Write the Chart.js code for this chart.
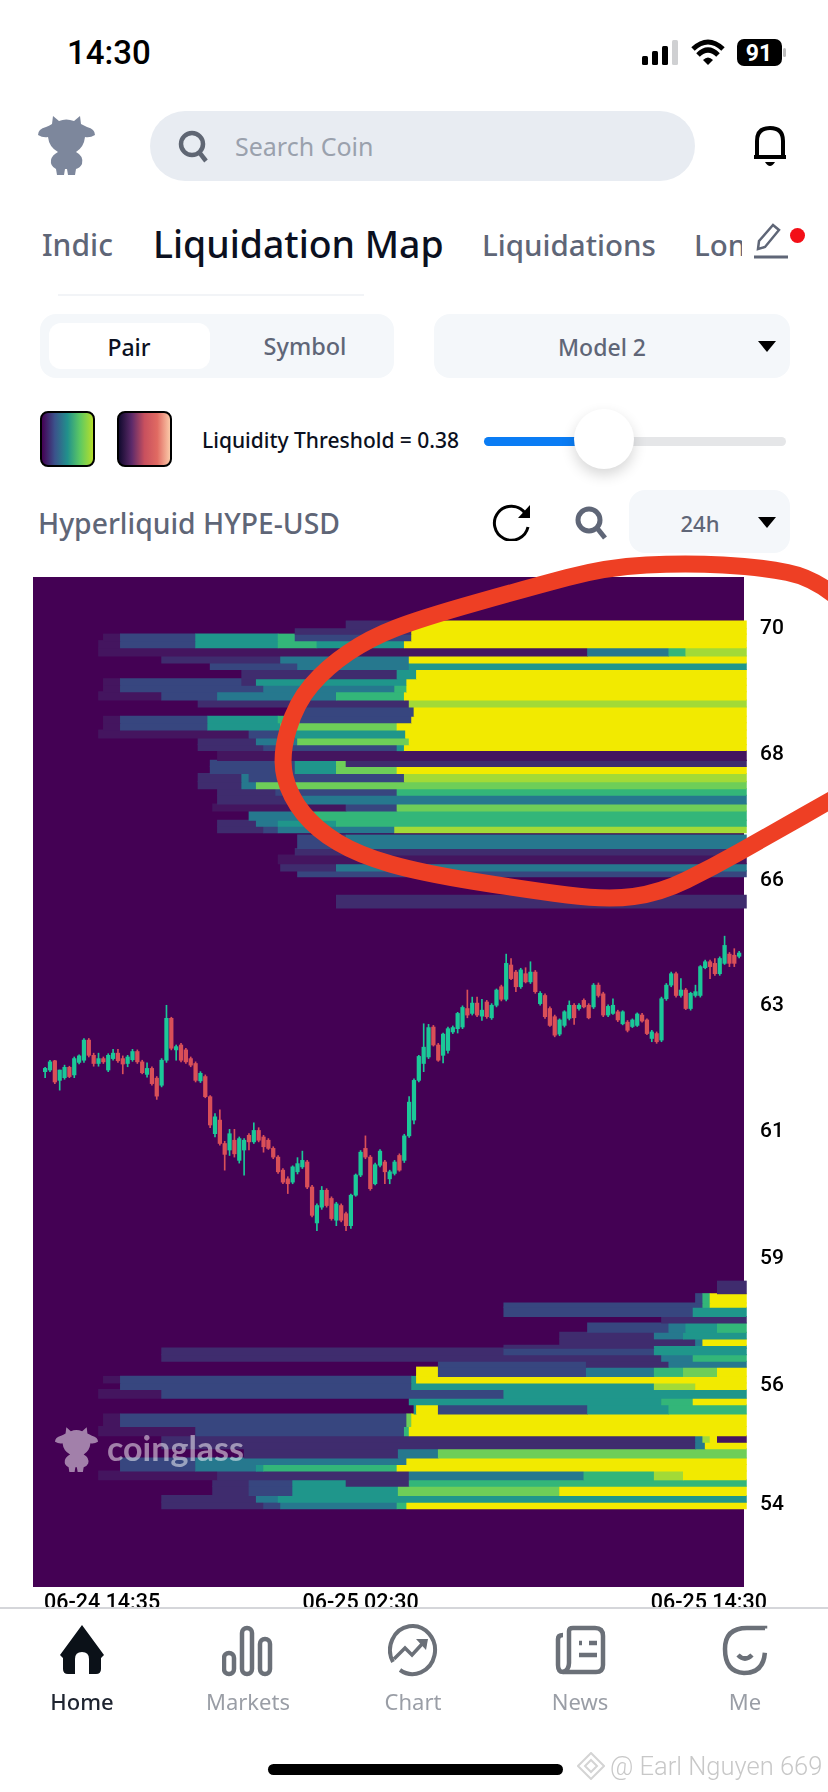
<!DOCTYPE html>
<html>
<head>
<meta charset="utf-8">
<script src="https://cdn.jsdelivr.net/npm/chart.js@4"></script>
<style>
  html, body { margin: 0; padding: 0; background: #fff; }
  #page { position: relative; width: 828px; height: 1792px; overflow: hidden; font-family: "Noto Sans", sans-serif; }
  #page > * { position: absolute; }
  .t { white-space: nowrap; line-height: 1; transform: translateY(-50%); font-weight: 500; color: #5f6677; }
  .c { transform: translate(-50%, -50%); }
  .pill { background: #f4f7fa; border-radius: 16px; }
  .tri { width: 0; height: 0; border-left: 9px solid transparent; border-right: 9px solid transparent; border-top: 11px solid #000; }
  .nav { font-size: 22px; color: #9a9ea6; font-weight: 400; }
</style>
</head>
<body>
<div id="page">
  <svg width="0" height="0" style="left:0;top:0">
    <symbol id="cow" viewBox="0 0 57 60">
      <path d="M14 8 L15 0 L21 5 Q28 2 36 5 L42 0 L43 8 Q47 10 49 11 Q57 13 57 19 Q52 22 47 21 Q46 31 38 36 Q46 40 44 48 Q42 52 38 53 L37 59 L30 59 L29 53 L27 53 L26 59 L19 59 L18 53 Q12 50 13 44 Q14 39 20 36 Q11 31 10 21 Q5 22 0 19 Q0 13 8 11 Q11 10 14 8 Z"/>
    </symbol>
  </svg>

  <div class="t" style="left:67px;top:52px;font:500 33px Roboto;color:#000">14:30</div>
  <svg style="left:640px;top:38px" width="150" height="30">
    <rect x="2" y="18" width="6" height="9" rx="1.5" fill="#000"/>
    <rect x="12" y="13" width="6" height="14" rx="1.5" fill="#000"/>
    <rect x="22" y="8" width="6" height="19" rx="1.5" fill="#000"/>
    <rect x="32" y="2" width="6" height="25" rx="1.5" fill="#cfd0d2"/>
    <path d="M53 11 Q68 -3 83 11 M58 17 Q68 7 78 17" fill="none" stroke="#000" stroke-width="5"/>
    <path d="M63 22 Q68 17 73 22 L68 27 Z" fill="#000"/>
    <rect x="97" y="1" width="45" height="27" rx="7" fill="#000"/>
    <rect x="143" y="10" width="3" height="9" rx="1.5" fill="#bdbdbd"/>
    <text x="119" y="23" text-anchor="middle" font-family="Roboto" font-weight="700" font-size="23" fill="#fff">91</text>
  </svg>

  <svg style="left:38px;top:116px" width="57" height="60" fill="#7d879c"><use href="#cow"/></svg>
  <div style="left:150px;top:111px;width:545px;height:70px;border-radius:35px;background:#e8ecf2"></div>
  <svg style="left:178px;top:130px" width="32" height="33" fill="none" stroke="#5f6673" stroke-width="4.5"><circle cx="14" cy="14" r="11"/><path d="M21 22 L28 31"/></svg>
  <div class="t" style="left:235px;top:146px;font-size:25px;color:#9aa1ad;font-weight:400">Search Coin</div>
  <svg style="left:752px;top:124px" width="36" height="46" fill="none" stroke="#000" stroke-width="4">
    <path d="M5 32 V17 Q5 4 18 4 Q31 4 31 17 V32"/><path d="M2 33 H34"/><path d="M13 38 H23 Q18 46 13 38 Z" fill="#000" stroke="none"/>
  </svg>

  <div class="t" style="left:42px;top:245px;font-size:30px">Indic</div>
  <div class="t" style="left:153px;top:244px;font-size:37.4px;color:#0b1020">Liquidation Map</div>
  <div class="t" style="left:482px;top:245px;font-size:29.5px">Liquidations</div>
  <div style="left:694px;top:225px;width:48px;height:40px;overflow:hidden"><div style="font-size:29.5px;font-weight:500;color:#5f6677;line-height:40px">Long</div></div>
  <svg style="left:752px;top:222px" width="40" height="38" fill="none" stroke="#5f6677" stroke-width="2.5"><path d="M6 27 L7 19 L21 3 L27 8 L13 25 Z"/><path d="M2 35 H36" stroke-width="3"/></svg>
  <div style="left:790px;top:228px;width:15px;height:15px;border-radius:50%;background:#f30f17"></div>
  <div style="left:58px;top:294px;width:306px;height:2px;background:#f2f4f7"></div>

  <div class="pill" style="left:40px;top:314px;width:354px;height:64px"></div>
  <div style="left:49px;top:323px;width:161px;height:46px;background:#fff;border-radius:12px"></div>
  <div class="t c" style="left:129px;top:347px;font-size:23px;color:#0b1020">Pair</div>
  <div class="t c" style="left:305px;top:347px;font-size:23.5px">Symbol</div>
  <div class="pill" style="left:434px;top:314px;width:356px;height:64px"></div>
  <div class="t c" style="left:602px;top:347px;font-size:23px">Model 2</div>
  <div class="tri" style="left:758px;top:341px"></div>

  <div style="left:40px;top:411px;width:51px;height:52px;border:2px solid #000;border-radius:8px;background:linear-gradient(90deg,#440154,#3b528b,#21918c,#5ec962,#b5de2b)"></div>
  <div style="left:117px;top:411px;width:51px;height:52px;border:2px solid #000;border-radius:8px;background:linear-gradient(90deg,#120a2e,#5c2a6a,#c8505e,#e06a62,#fbc9a8)"></div>
  <div class="t" style="left:202px;top:440px;font-size:21px;color:#0b1020">Liquidity Threshold = 0.38</div>
  <div style="left:484px;top:437px;width:302px;height:9px;border-radius:5px;background:#e5e6e8"></div>
  <div style="left:484px;top:437px;width:120px;height:9px;border-radius:5px 0 0 5px;background:#0a7cf4"></div>
  <div style="left:574px;top:409px;width:60px;height:60px;border-radius:50%;background:#fff;box-shadow:0 6px 14px rgba(0,0,0,.16)"></div>

  <div class="t" style="left:38px;top:523px;font-size:28.3px">Hyperliquid HYPE-USD</div>
  <svg style="left:492px;top:501px" width="42" height="40" fill="none" stroke="#000" stroke-width="3">
    <path d="M33 12 A17 17 0 1 0 36 26"/><path d="M38 4 V17 H26 Z" fill="#000" stroke="none"/>
  </svg>
  <svg style="left:574px;top:506px" width="36" height="35" fill="none" stroke="#5f6677" stroke-width="5"><circle cx="15" cy="14" r="11"/><path d="M23 22 L31 32"/></svg>
  <div class="pill" style="left:629px;top:490px;width:161px;height:63px"></div>
  <div class="t c" style="left:700px;top:523px;font-size:22px">24h</div>
  <div class="tri" style="left:758px;top:517px"></div>

  <div style="left:0;top:560px;width:828px;height:1060px"><canvas id="liqmap" width="828" height="1060"></canvas></div>

  <svg style="left:55px;top:1427px" width="43" height="46" fill="#fff" opacity="0.5"><use href="#cow"/></svg>
  <div style="left:107px;top:1426px;font:700 34px/1.3 Lato;color:rgba(255,255,255,.5)">coinglass</div>

  <svg id="loop" style="left:0;top:0" width="828" height="1792"><path id="looppath" fill="none" stroke="#ee3f24" stroke-width="17" stroke-linecap="round" stroke-linejoin="round"/></svg>

  <div style="left:0;top:1607px;width:828px;height:2px;background:#d5d6da"></div>
  <svg style="left:56px;top:1625px" width="52" height="52" fill="#0b1118"><path d="M26 0 L48 30 L45 33 V44 Q45 49 40 49 H33 V34 Q33 27 26 27 Q19 27 19 34 V49 H12 Q7 49 7 44 V33 L4 30 Z"/></svg>
  <svg style="left:222px;top:1625px" width="52" height="52" fill="none" stroke="#6b7078" stroke-width="4.5"><rect x="2" y="28" width="10" height="21" rx="5"/><rect x="20" y="3" width="10" height="46" rx="5"/><rect x="38" y="14" width="10" height="35" rx="5"/></svg>
  <svg style="left:388px;top:1624px" width="52" height="54" fill="none" stroke="#6b7078" stroke-width="4"><path d="M5 38 A22.5 24 0 1 1 12 46"/><path d="M6 35 L17 24 L24 31 L35 19" stroke-width="3.5"/><path d="M28 15 L40 15 L38 26 Z" fill="#6b7078" stroke="none"/></svg>
  <svg style="left:555px;top:1625px" width="52" height="52" fill="none" stroke="#6b7078" stroke-width="4.5"><path d="M14 6 Q14 3 18 3 H40 Q48 3 48 11 V40 Q48 47 41 47 H8 Q3 47 3 40 V14 Q3 10 8 10"/><path d="M14 6 V38 Q14 45 8 47"/><path d="M24 18 H27 M34 18 H42 M24 30 H42" stroke-width="4.5"/></svg>
  <svg style="left:722px;top:1625px" width="46" height="52" fill="none" stroke="#6b7078" stroke-width="4.5"><path d="M43 3 H25 Q3 3 3 24 Q3 47 22 48 Q43 48 43 24 Z" stroke-dasharray="120 24"/><path d="M16 30 Q23 37 30 30"/></svg>
  <div class="t c nav" style="left:82px;top:1701px;color:#1e2430;font-weight:500">Home</div>
  <div class="t c nav" style="left:248px;top:1701px">Markets</div>
  <div class="t c nav" style="left:413px;top:1701px">Chart</div>
  <div class="t c nav" style="left:580px;top:1701px">News</div>
  <div class="t c nav" style="left:745px;top:1701px">Me</div>

  <div style="left:268px;top:1764px;width:295px;height:11px;border-radius:6px;background:#000"></div>
  <svg style="left:577px;top:1752px" width="28" height="28" fill="none" stroke="#d4d4d4" stroke-width="2"><path d="M14 1 L27 14 L14 27 L1 14 Z M14 8 L20 14 L14 20 L8 14 Z"/></svg>
  <div class="t" style="left:610px;top:1767px;font-size:25.5px;font-weight:300;color:#c8c8c8;font-family:Roboto">@ Earl Nguyen 669</div>
</div>

<script>
const xTickValues = [23.5, 130, 273.5];
const xTickLabels = ['06-24 14:35', '06-25 02:30', '06-25 14:30'];
const yTickValues = [70.17, 67.86, 65.54, 63.24, 60.93, 58.6, 56.26, 54.07];
const yTickLabels = ['70', '68', '66', '63', '61', '59', '56', '54'];

// viridis steps, index = liquidity level
const levelColors = ['#440154', '#44155f', '#3f2c6e', '#37467f', '#26788e', '#1f968b', '#33b679', '#6ece58', '#a2da37', '#f2ea00'];

// price bands of the heatmap, x stops are in 5 minute candles from 06-24 14:35
const bandHigh = [70.31, 70.17, 70.07, 69.95, 69.82, 69.67, 69.54, 69.42, 69.25, 69.13, 69.01, 68.86, 68.73, 68.56, 68.44, 68.31, 68.16, 68.04, 67.93, 67.75, 67.64, 67.51, 67.36, 67.23, 67.11, 66.95, 66.82, 66.65, 66.54, 66.38, 66.13, 66.01, 65.85, 65.72, 65.27,
  58.18, 57.95, 57.78, 57.70, 57.53, 57.41, 57.24, 57.12, 57.0, 56.95, 56.83, 56.71, 56.60, 56.43, 56.31, 56.19, 56.03, 55.91, 55.74, 55.51, 55.34, 55.22, 55.10, 54.93, 54.81, 54.69, 54.53, 54.41, 54.24, 54.12];
const bandLow = [70.17, 70.07, 69.95, 69.82, 69.67, 69.54, 69.42, 69.25, 69.13, 69.01, 68.86, 68.73, 68.56, 68.44, 68.31, 68.16, 68.04, 67.93, 67.75, 67.64, 67.51, 67.36, 67.23, 67.11, 66.95, 66.82, 66.65, 66.54, 66.42, 66.13, 66.01, 65.85, 65.72, 65.61, 65.04,
  57.95, 57.78, 57.70, 57.53, 57.41, 57.24, 57.12, 57.0, 56.95, 56.83, 56.71, 56.60, 56.43, 56.31, 56.19, 56.03, 55.91, 55.74, 55.51, 55.34, 55.22, 55.10, 54.93, 54.81, 54.69, 54.53, 54.41, 54.24, 54.12, 54.0];
const bandStops = [
  [124,151,289], [103,151,289], [24,31,62,96,103,151,289], [22,31,62,96,112,148,289], [22,223.5,257,264,289],
  [48,97,150,289], [68,104,150,289], [81,145,153,289], [24,31,81,87,149,289], [24,31,90,144,149,289],
  [22,48,71,120,148,289], [63,150,289], [104,152,289], [24,31,67,96,105,151,289], [24,31,67,97,145,289],
  [22,84,103,148.5,289], [63,87,104,150,289], [63,90,145,148,289], [71,289], [68,103,120,124,289],
  [68,103,120,145,289], [63,81,84,148,289], [63,81,87,289], [71,95,145,289], [71,104,289],
  [69,124,145,289], [84,105,289], [71,87,96,120,289], [71,90,96,144,289], [104,124,289],
  [103,289], [96,289], [97,120,289], [104,289], [120,289],
  [277,289], [268,271,274,289], [189,271,274,289], [189,267,289], [254,289],
  [223.5,257,264,277,289], [212,251,263,289], [212,268,271,289], [189,251,289], [48,189,251,289],
  [48,254,267,289], [162,223,257,289], [153,162,223,251,263,277,289], [24,31,151,153,289], [31,151,251,268,289],
  [22,48,189,289], [150,254,267,289], [152,153,162,223.5,257,289], [24,31,149,151,289], [22,62,148,150,289],
  [48,268,271,274,277,289], [48,268,272,289], [82,145.5,162,289], [31,62,149,289], [31,62,87,90,145,289],
  [22,71,150,222,251,263,289], [69,84,102,124,150,289], [69,84,102,145.5,212,289], [48,87,96,289], [48,90,97,145,149,289]
];
const bandLevels = [
  [2,9], [2,9], [1,3,5,6,3,9], [1,3,5,6,5,9], [1,4,6,8],
  [2,4,9], [3,4,5], [2,5,9], [1,3,2,5,9], [1,3,4,6,9],
  [1,3,4,6,9], [2,8], [3,9], [1,3,5,6,3,9], [1,3,5,7,9],
  [1,3,5,9], [2,4,7,9], [2,3,5,9], [1], [3,5,7,2],
  [3,5,7,9], [2,4,3,8], [2,4,7], [2,3,6], [2,4],
  [1,3,7], [4,6], [2,4,5,6], [2,3,4,8], [3,4],
  [2], [1], [2,4], [3], [2],
  [2], [3,6,9], [3,6,9], [3,5], [2],
  [3,4,5,6], [2,4,5], [2,4,9], [2,5], [2,3,5],
  [2,4,6], [3,2,4], [9,3,4,6,7,9], [1,3,5,9], [3,5,8,9],
  [1,3,5], [5,6,9], [5,9,3,5,6], [1,3,7,9], [1,3,6,9],
  [2,4,8,9,1], [2,4,9], [2,4,7], [3,4,9], [3,4,5,6,9],
  [1,2,4,6,8,9], [2,3,5,2,6], [2,3,5,7,9], [2,4,5], [2,3,4,6,9]
];

// price candles, 10 minutes each
const opens = [62.03,62.06,62.23,61.87,61.92,62.11,61.97,62.2,62.24,62.61,62.33,62.18,62.27,62.06,62.27,62.37,62.27,62.18,62.25,62.4,
  62.21,61.98,62.09,61.91,61.78,62.24,63.01,62.43,62.52,62.43,62.27,62.18,61.86,61.94,61.57,60.89,61.14,60.71,60.59,60.77,
  60.4,60.59,60.86,60.74,60.95,60.83,60.77,60.62,60.46,60.22,60.06,60.0,60.19,60.28,60.37,59.91,59.25,59.54,59.85,59.7,
  59.3,59.57,59.42,59.2,59.76,60.13,60.62,60.46,59.97,60.31,60.37,60.06,60.16,60.49,60.4,60.85,61.14,61.87,62.18,62.3,
  62.85,62.52,62.33,62.42,62.76,62.82,62.85,63.19,63.1,63.29,63.05,63.31,63.02,63.25,63.59,63.36,63.99,63.86,63.59,63.83,
  63.68,63.86,63.28,63.43,63.19,63.04,62.72,62.88,63.01,63.25,63.19,63.34,63.25,63.22,63.62,63.46,63.07,63.1,63.13,62.91,
  62.94,62.86,62.88,63.07,62.98,62.64,62.73,62.61,63.37,63.62,63.83,63.43,63.53,63.19,63.43,63.43,63.94,64.05,64.02,63.83,
  64.02,64.19,64.17,64.15];
const closes = [62.09,62.21,61.84,62.06,62.11,61.94,62.27,62.32,62.61,62.33,62.18,62.27,62.21,62.33,62.37,62.23,62.17,62.3,62.4,62.21,
  62.01,62.09,61.81,61.58,62.24,63.01,62.46,62.49,62.24,62.21,62.15,61.87,62.0,61.57,61.05,61.2,60.71,60.51,60.89,60.52,
  60.8,60.77,60.74,60.95,60.77,60.65,60.62,60.46,60.19,60.0,59.97,60.28,60.34,60.4,59.91,59.39,59.57,59.85,59.57,59.33,
  59.6,59.3,59.2,59.76,60.13,60.55,60.46,59.88,60.32,60.57,60.19,60.19,60.37,60.22,60.85,61.47,61.87,62.31,62.48,62.84,
  62.52,62.24,62.72,62.82,62.84,63.1,63.21,63.07,63.29,63.07,63.16,63.04,63.25,63.53,63.36,64.02,63.74,63.59,63.9,63.68,
  63.86,63.5,63.47,63.04,62.88,62.7,62.98,63.13,63.25,63.02,63.25,63.22,63.02,63.62,63.43,63.07,63.23,63.25,62.98,63.13,
  62.79,62.98,63.09,62.96,62.73,62.76,62.58,63.37,63.62,63.83,63.43,63.53,63.19,63.47,63.5,63.96,64.05,63.96,63.83,64.11,
  64.35,64.02,64.02,64.21];
const highs = [62.11,62.24,62.24,62.06,62.15,62.13,62.30,62.34,62.64,62.64,62.37,62.37,62.3,62.36,62.44,62.44,62.32,62.33,62.44,62.43,
  62.24,62.19,62.12,61.94,62.27,63.25,63.03,62.52,62.55,62.46,62.3,62.21,62.03,61.97,61.59,61.26,61.33,60.75,60.97,60.97,
  60.83,60.8,60.89,61.09,61.0,60.86,60.8,60.65,60.49,60.25,60.1,60.3,60.45,60.57,60.4,59.94,59.6,59.92,59.88,59.73,
  59.63,59.6,59.45,59.78,60.15,60.58,60.85,60.49,60.35,60.6,60.4,60.22,60.4,60.52,60.88,61.57,61.9,62.33,62.91,62.9,
  62.88,62.55,62.74,62.85,62.87,63.12,63.24,63.53,63.4,63.4,63.36,63.34,63.28,63.55,63.62,64.19,64.11,63.89,63.93,63.94,
  64.05,63.89,63.5,63.46,63.22,63.07,63.0,63.15,63.33,63.28,63.28,63.37,63.28,63.65,63.66,63.49,63.26,63.37,63.16,63.15,
  62.97,63.0,63.11,63.1,63.0,62.79,62.76,63.4,63.65,63.86,63.86,63.74,63.56,63.49,63.62,63.98,64.08,64.08,64.11,64.14,
  64.52,64.22,64.29,64.24];
const lows = [61.92,62.03,61.81,61.69,61.89,61.92,61.92,62.17,62.2,62.3,62.13,62.13,62.18,62.03,62.24,62.2,61.99,62.12,62.22,62.18,
  61.99,61.93,61.78,61.52,61.75,62.2,62.43,62.24,62.21,62.18,62.12,61.84,61.83,61.55,61.0,60.83,60.68,60.22,60.49,60.46,
  60.35,60.13,60.59,60.71,60.74,60.55,60.6,60.43,60.16,59.97,59.79,59.97,60.15,60.25,59.88,59.36,59.11,59.5,59.54,59.3,
  59.2,59.27,59.11,59.15,59.74,60.1,60.43,59.85,59.95,60.28,59.97,59.97,60.13,60.2,60.36,60.82,61.07,61.84,62.03,62.27,
  62.5,62.22,62.19,62.37,62.73,62.74,62.82,63.02,63.07,63.04,62.97,63.01,62.99,63.22,63.33,63.33,63.72,63.5,63.56,63.66,
  63.65,63.47,63.25,63.01,62.86,62.67,62.69,62.85,62.98,62.9,63.16,63.2,63.0,63.19,63.4,63.04,63.04,63.08,62.95,62.89,
  62.76,62.84,62.86,62.94,62.71,62.58,62.55,62.58,63.34,63.59,63.4,63.4,63.17,63.16,63.4,63.4,63.92,63.74,63.8,63.8,
  64.0,63.96,63.96,64.12];

const upColor = '#1bc898';
const downColor = '#d94f58';

// hand drawn circle on the screenshot, page pixels
const loopPoints = [[840,600],[815,578],[760,567],[686,563],[607,567],[528,588],[422,618],[370,638],[327,667],[296,703],[280,757],[290,797],[317,830],[359,855],[422,873],[528,890],[607,900],[660,893],[713,867],[766,837],[840,795]];
let loopD = 'M' + loopPoints[0].join(' ');
for (let i = 1; i < loopPoints.length - 1; i++) {
  const mx = (loopPoints[i][0] + loopPoints[i + 1][0]) / 2;
  const my = (loopPoints[i][1] + loopPoints[i + 1][1]) / 2;
  loopD += ' Q' + loopPoints[i].join(' ') + ' ' + mx + ' ' + my;
}
loopD += ' L' + loopPoints[loopPoints.length - 1].join(' ');
document.getElementById('looppath').setAttribute('d', loopD);

const bandDatasets = bandHigh.map((high, b) => ({
  type: 'bar',
  indexAxis: 'y',
  grouped: false,
  clip: false,
  order: 2,
  barThickness: (ctx) => {
    const y = ctx.chart.scales.y;
    return y.getPixelForValue(bandLow[b]) - y.getPixelForValue(high) + 0.4;
  },
  data: bandLevels[b].map((level, s) => ({ y: (high + bandLow[b]) / 2, x: [bandStops[b][s], bandStops[b][s + 1]] })),
  backgroundColor: bandLevels[b].map(level => levelColors[level]),
  borderWidth: 0
}));

const candleColors = closes.map((c, i) => c >= opens[i] ? upColor : downColor);

const wickDataset = {
  type: 'bar',
  indexAxis: 'x',
  grouped: false,
  order: 1,
  barThickness: 1,
  data: highs.map((h, i) => ({ x: i * 2, y: [lows[i], h] })),
  backgroundColor: candleColors,
  borderWidth: 0
};
const bodyDataset = {
  type: 'bar',
  indexAxis: 'x',
  grouped: false,
  order: 0,
  barThickness: 3.6,
  data: opens.map((o, i) => ({ x: i * 2, y: [o, closes[i]] })),
  backgroundColor: candleColors,
  borderWidth: 0
};

new Chart(document.getElementById('liqmap'), {
  data: { datasets: [...bandDatasets, wickDataset, bodyDataset] },
  options: {
    responsive: false,
    animation: false,
    devicePixelRatio: 1,
    layout: { padding: { left: 33, top: 17, right: 0, bottom: 0 } },
    plugins: { legend: { display: false }, tooltip: { enabled: false } },
    scales: {
      x: {
        type: 'linear',
        offset: false,
        min: -5,
        max: 288,
        grid: { display: false, drawTicks: false, offset: false },
        border: { display: false },
        afterFit: (s) => { s.height = 33; s.paddingLeft = 0; s.paddingRight = 0; },
        afterBuildTicks: (s) => { s.ticks = xTickValues.map(v => ({ value: v })); },
        ticks: {
          autoSkip: false,
          maxRotation: 0,
          padding: 4,
          color: '#000',
          font: { family: 'Roboto', weight: '500', size: 21.5 },
          callback: (v, i) => xTickLabels[i]
        }
      },
      y: {
        type: 'linear',
        offset: false,
        position: 'right',
        min: 52.56,
        max: 71.12,
        grid: { display: false, drawTicks: false, offset: false },
        border: { display: false },
        afterFit: (s) => { s.width = 84; s.paddingTop = 0; s.paddingBottom = 0; },
        afterBuildTicks: (s) => { s.ticks = yTickValues.map(v => ({ value: v })); },
        ticks: {
          autoSkip: false,
          padding: 16,
          color: '#000',
          font: { family: 'Roboto', weight: '500', size: 21 },
          callback: (v, i) => yTickLabels[i]
        }
      }
    }
  },
  plugins: [{
    id: 'plotbg',
    beforeDraw(chart) {
      const { ctx, chartArea: a } = chart;
      ctx.save();
      ctx.fillStyle = levelColors[0];
      ctx.fillRect(a.left, a.top, a.right - a.left, a.bottom - a.top);
      ctx.restore();
    }
  }]
});
</script>
</body>
</html>
